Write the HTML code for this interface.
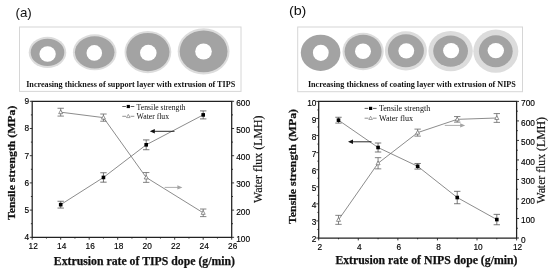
<!DOCTYPE html>
<html><head><meta charset="utf-8"><title>Figure</title>
<style>
html,body{margin:0;padding:0;background:#fff;}
body{width:550px;height:272px;overflow:hidden;}
svg{display:block;}
.sans{font-family:"Liberation Sans",sans-serif;}
.serif{font-family:"Liberation Serif",serif;}
.b{font-weight:bold;}
</style></head><body>
<svg width="550" height="272" viewBox="0 0 550 272">
<defs><filter id="soft" x="0" y="0" width="100%" height="100%" color-interpolation-filters="sRGB"><feGaussianBlur stdDeviation="0.4"/></filter></defs>
<rect width="550" height="272" fill="#fff"/>
<g filter="url(#soft)">
<text class="sans" x="15.5" y="16.8" font-size="13.3" fill="#111" textLength="16.3" lengthAdjust="spacingAndGlyphs">(a)</text>
<text class="sans" x="288.9" y="14.8" font-size="13.5" fill="#111" textLength="17.5" lengthAdjust="spacingAndGlyphs">(b)</text>
<rect x="19.5" y="27" width="221.5" height="64.4" fill="#fff" stroke="#d6d6d6" stroke-width="1"/>
<rect x="297.7" y="27" width="224.8" height="64.7" fill="#fff" stroke="#d6d6d6" stroke-width="1"/>
<ellipse cx="47.5" cy="52.4" rx="18.8" ry="15.6" fill="#dcdcdc"/><ellipse cx="47.5" cy="52.4" rx="16.8" ry="13.6" fill="#a3a3a3"/><ellipse cx="47.6" cy="54" rx="8.2" ry="7.8" fill="#fff"/>
<ellipse cx="94.7" cy="52.3" rx="21.8" ry="18" fill="#dcdcdc"/><ellipse cx="94.7" cy="52.3" rx="19.8" ry="16.1" fill="#a3a3a3"/><ellipse cx="94.3" cy="52.9" rx="7.8" ry="7.8" fill="#fff"/>
<ellipse cx="147.9" cy="52.1" rx="23.4" ry="21.1" fill="#dcdcdc"/><ellipse cx="147.9" cy="52.1" rx="21.6" ry="19.2" fill="#a3a3a3"/><ellipse cx="148.3" cy="52.8" rx="8.3" ry="8" fill="#fff"/>
<ellipse cx="203.6" cy="51.4" rx="25.9" ry="23.2" fill="#dcdcdc"/><ellipse cx="203.6" cy="51.4" rx="23.9" ry="20.9" fill="#a3a3a3"/><ellipse cx="203.5" cy="51.5" rx="8.3" ry="8" fill="#fff"/>
<ellipse cx="320.6" cy="52.8" rx="19.8" ry="18.1" fill="#a3a3a3"/><ellipse cx="320.8" cy="52.8" rx="7.9" ry="8.1" fill="#fff"/>
<ellipse cx="363.1" cy="51.5" rx="20.6" ry="18.8" fill="#dcdcdc"/><ellipse cx="363.1" cy="51.5" rx="18.5" ry="16.8" fill="#a3a3a3"/><ellipse cx="363" cy="51.3" rx="8" ry="7.7" fill="#fff"/>
<ellipse cx="405.9" cy="50.8" rx="21" ry="19.6" fill="#dcdcdc"/><ellipse cx="405.9" cy="50.8" rx="18" ry="16.5" fill="#a3a3a3"/><ellipse cx="406.3" cy="50.8" rx="7.9" ry="7.6" fill="#fff"/>
<ellipse cx="450.6" cy="51.1" rx="22.2" ry="20.2" fill="#dcdcdc"/><ellipse cx="450.6" cy="51.1" rx="17.4" ry="15.6" fill="#a3a3a3"/><ellipse cx="451.1" cy="50.6" rx="8" ry="7.7" fill="#fff"/>
<ellipse cx="495.8" cy="51.2" rx="22.5" ry="21.6" fill="#dcdcdc"/><ellipse cx="495.8" cy="51.2" rx="16.9" ry="16" fill="#a3a3a3"/><ellipse cx="495.8" cy="50.6" rx="8.2" ry="7.7" fill="#fff"/>
<text class="serif b" x="130.7" y="86.8" font-size="7.6" text-anchor="middle" fill="#111" textLength="209" lengthAdjust="spacingAndGlyphs">Increasing thickness of support layer with extrusion of TIPS</text>
<text class="serif b" x="411.9" y="87" font-size="7.6" text-anchor="middle" fill="#111" textLength="208" lengthAdjust="spacingAndGlyphs">Increasing thickness of coating layer with extrusion of NIPS</text>
<g stroke="#222" stroke-width="1.25" fill="none"><path d="M32.2 101.3V237.3H231.7V101.3Z"/><path d="M32.2 237.3v2.4M46.45 237.3v1.3M60.7 237.3v2.4M74.95 237.3v1.3M89.2 237.3v2.4M103.45 237.3v1.3M117.7 237.3v2.4M131.95 237.3v1.3M146.2 237.3v2.4M160.45 237.3v1.3M174.7 237.3v2.4M188.95 237.3v1.3M203.2 237.3v2.4M217.45 237.3v1.3M231.7 237.3v2.4M32.2 237.3h-2.4M32.2 223.7h-1.3M32.2 210.1h-2.4M32.2 196.5h-1.3M32.2 182.9h-2.4M32.2 169.3h-1.3M32.2 155.7h-2.4M32.2 142.1h-1.3M32.2 128.5h-2.4M32.2 114.9h-1.3M32.2 101.3h-2.4M231.7 237.3h2.4M231.7 223.7h1.3M231.7 210.1h2.4M231.7 196.5h1.3M231.7 182.9h2.4M231.7 169.3h1.3M231.7 155.7h2.4M231.7 142.1h1.3M231.7 128.5h2.4M231.7 114.9h1.3M231.7 101.3h2.4" stroke-width="0.9"/></g>
<g class="sans" font-size="8.3" fill="#000" stroke="#000" stroke-width="0.15"><text x="33.2" y="249" text-anchor="middle">12</text><text x="61.7" y="249" text-anchor="middle">14</text><text x="90.2" y="249" text-anchor="middle">16</text><text x="118.7" y="249" text-anchor="middle">18</text><text x="147.2" y="249" text-anchor="middle">20</text><text x="175.7" y="249" text-anchor="middle">22</text><text x="204.2" y="249" text-anchor="middle">24</text><text x="232.7" y="249" text-anchor="middle">26</text><text x="29.1" y="240.2" text-anchor="end">4</text><text x="29.1" y="213" text-anchor="end">5</text><text x="29.1" y="185.8" text-anchor="end">6</text><text x="29.1" y="158.6" text-anchor="end">7</text><text x="29.1" y="131.4" text-anchor="end">8</text><text x="29.1" y="104.2" text-anchor="end">9</text><text x="236.2" y="241.7">100</text><text x="236.2" y="214.5">200</text><text x="236.2" y="187.3">300</text><text x="236.2" y="160.1">400</text><text x="236.2" y="132.9">500</text><text x="236.2" y="105.7">600</text></g>
<polyline points="60.7,204.66 103.45,177.46 146.2,144.82 203.2,114.9" fill="none" stroke="#6e6e6e" stroke-width="0.8"/><polyline points="60.7,112.18 103.45,117.62 146.2,177.46 203.2,212.82" fill="none" stroke="#6e6e6e" stroke-width="0.8"/>
<path d="M60.7 108.28V116.08M57.5 108.28h6.4M57.5 116.08h6.4" stroke="#666" stroke-width="0.8" fill="none"/><path d="M60.7 109.88L62.7 113.68L58.7 113.68Z" fill="#fff" stroke="#666" stroke-width="0.7"/><path d="M103.45 114.02V121.22M100.25 114.02h6.4M100.25 121.22h6.4" stroke="#666" stroke-width="0.8" fill="none"/><path d="M103.45 115.32L105.45 119.12L101.45 119.12Z" fill="#fff" stroke="#666" stroke-width="0.7"/><path d="M146.2 172.56V182.36M143 172.56h6.4M143 182.36h6.4" stroke="#666" stroke-width="0.8" fill="none"/><path d="M146.2 175.16L148.2 178.96L144.2 178.96Z" fill="#fff" stroke="#666" stroke-width="0.7"/><path d="M203.2 209.02V216.62M200 209.02h6.4M200 216.62h6.4" stroke="#666" stroke-width="0.8" fill="none"/><path d="M203.2 210.52L205.2 214.32L201.2 214.32Z" fill="#fff" stroke="#666" stroke-width="0.7"/><path d="M60.7 201.26V208.06M57.5 201.26h6.4M57.5 208.06h6.4" stroke="#555" stroke-width="0.8" fill="none"/><rect x="58.9" y="202.86" width="3.6" height="3.6" fill="#000"/><path d="M103.45 172.76V182.16M100.25 172.76h6.4M100.25 182.16h6.4" stroke="#555" stroke-width="0.8" fill="none"/><rect x="101.65" y="175.66" width="3.6" height="3.6" fill="#000"/><path d="M146.2 139.92V149.72M143 139.92h6.4M143 149.72h6.4" stroke="#555" stroke-width="0.8" fill="none"/><rect x="144.4" y="143.02" width="3.6" height="3.6" fill="#000"/><path d="M203.2 110.9V118.9M200 110.9h6.4M200 118.9h6.4" stroke="#555" stroke-width="0.8" fill="none"/><rect x="201.4" y="113.1" width="3.6" height="3.6" fill="#000"/>
<path d="M122.3 106.5h3.6m4.8 0h3.6" stroke="#333" stroke-width="0.8"/><rect x="126.7" y="104.9" width="3.2" height="3.2" fill="#000"/><path d="M122.3 116.3h3.8m4.4 0h3.8" stroke="#777" stroke-width="0.8"/><path d="M128.3 114.4l1.8 3.2h-3.6z" fill="#fff" stroke="#666" stroke-width="0.6"/><text class="serif" x="136.6" y="109.5" font-size="7.7" fill="#111">Tensile strength</text><text class="serif" x="136.6" y="118.9" font-size="7.7" fill="#111">Water flux</text>
<path d="M152.8 131.3H174.5" stroke="#111" stroke-width="0.9"/><path d="M149.8 131.3l5 -2.2v4.4z" fill="#111"/><path d="M164.7 187.4H179.4" stroke="#a4a4a4" stroke-width="0.9"/><path d="M182.4 187.4l-5 -2.2v4.4z" fill="#a4a4a4"/>
<text class="serif b" x="53.8" y="264.5" font-size="11.8" fill="#111" stroke="#111" stroke-width="0.25" textLength="181.2" lengthAdjust="spacingAndGlyphs">Extrusion rate of TIPS dope (g/min)</text>
<text class="serif b" transform="translate(15.2 220) rotate(-90)" font-size="11.2" fill="#111" stroke="#111" stroke-width="0.25" textLength="114.3" lengthAdjust="spacingAndGlyphs">Tensile strength (MPa)</text>
<text class="serif" transform="translate(261.5 203) rotate(-90)" font-size="11.8" fill="#111" stroke="#111" stroke-width="0.15" textLength="87.5" lengthAdjust="spacingAndGlyphs">Water flux (LMH)</text>
<g stroke="#222" stroke-width="1.25" fill="none"><path d="M318.7 101.4V238H516.6V101.4Z"/><path d="M318.7 238v2.4M338.49 238v1.3M358.28 238v2.4M378.07 238v1.3M397.86 238v2.4M417.65 238v1.3M437.44 238v2.4M457.23 238v1.3M477.02 238v2.4M496.81 238v1.3M516.6 238v2.4M318.7 238h-2.4M318.7 229.46h-1.3M318.7 220.93h-2.4M318.7 212.39h-1.3M318.7 203.85h-2.4M318.7 195.31h-1.3M318.7 186.78h-2.4M318.7 178.24h-1.3M318.7 169.7h-2.4M318.7 161.16h-1.3M318.7 152.62h-2.4M318.7 144.09h-1.3M318.7 135.55h-2.4M318.7 127.01h-1.3M318.7 118.48h-2.4M318.7 109.94h-1.3M318.7 101.4h-2.4M516.6 238h2.4M516.6 228.24h1.3M516.6 218.49h2.4M516.6 208.73h1.3M516.6 198.97h2.4M516.6 189.21h1.3M516.6 179.46h2.4M516.6 169.7h1.3M516.6 159.94h2.4M516.6 150.19h1.3M516.6 140.43h2.4M516.6 130.67h1.3M516.6 120.91h2.4M516.6 111.16h1.3M516.6 101.4h2.4" stroke-width="0.9"/></g>
<g class="sans" font-size="8.3" fill="#000" stroke="#000" stroke-width="0.15"><text x="319.7" y="249.7" text-anchor="middle">2</text><text x="359.28" y="249.7" text-anchor="middle">4</text><text x="398.86" y="249.7" text-anchor="middle">6</text><text x="438.44" y="249.7" text-anchor="middle">8</text><text x="478.02" y="249.7" text-anchor="middle">10</text><text x="517.6" y="249.7" text-anchor="middle">12</text><text x="316.4" y="242.2" text-anchor="end">2</text><text x="316.4" y="225.12" text-anchor="end">3</text><text x="316.4" y="208.05" text-anchor="end">4</text><text x="316.4" y="190.97" text-anchor="end">5</text><text x="316.4" y="173.9" text-anchor="end">6</text><text x="316.4" y="156.82" text-anchor="end">7</text><text x="316.4" y="139.75" text-anchor="end">8</text><text x="316.4" y="122.68" text-anchor="end">9</text><text x="316.4" y="105.6" text-anchor="end">10</text><text x="521.1" y="242.6">0</text><text x="521.1" y="223.09">100</text><text x="521.1" y="203.57">200</text><text x="521.1" y="184.06">300</text><text x="521.1" y="164.54">400</text><text x="521.1" y="145.03">500</text><text x="521.1" y="125.51">600</text><text x="521.1" y="106">700</text></g>
<polyline points="338.49,120.18 378.07,147.5 417.65,166.28 457.23,197.53 496.81,219.56" fill="none" stroke="#6e6e6e" stroke-width="0.8"/><polyline points="338.49,219.85 378.07,163.26 417.65,132.62 457.23,119.35 496.81,117.99" fill="none" stroke="#6e6e6e" stroke-width="0.8"/>
<path d="M338.49 215.35V224.35M335.29 215.35h6.4M335.29 224.35h6.4" stroke="#666" stroke-width="0.8" fill="none"/><path d="M338.49 217.55L340.49 221.35L336.49 221.35Z" fill="#fff" stroke="#666" stroke-width="0.7"/><path d="M378.07 157.66V168.86M374.87 157.66h6.4M374.87 168.86h6.4" stroke="#666" stroke-width="0.8" fill="none"/><path d="M378.07 160.96L380.07 164.76L376.07 164.76Z" fill="#fff" stroke="#666" stroke-width="0.7"/><path d="M417.65 129.12V136.12M414.45 129.12h6.4M414.45 136.12h6.4" stroke="#666" stroke-width="0.8" fill="none"/><path d="M417.65 130.32L419.65 134.12L415.65 134.12Z" fill="#fff" stroke="#666" stroke-width="0.7"/><path d="M457.23 116.55V122.15M454.03 116.55h6.4M454.03 122.15h6.4" stroke="#666" stroke-width="0.8" fill="none"/><path d="M457.23 117.05L459.23 120.85L455.23 120.85Z" fill="#fff" stroke="#666" stroke-width="0.7"/><path d="M496.81 113.59V122.39M493.61 113.59h6.4M493.61 122.39h6.4" stroke="#666" stroke-width="0.8" fill="none"/><path d="M496.81 115.69L498.81 119.49L494.81 119.49Z" fill="#fff" stroke="#666" stroke-width="0.7"/><path d="M338.49 117.28V123.08M335.29 117.28h6.4M335.29 123.08h6.4" stroke="#555" stroke-width="0.8" fill="none"/><rect x="336.69" y="118.38" width="3.6" height="3.6" fill="#000"/><path d="M378.07 143V152M374.87 143h6.4M374.87 152h6.4" stroke="#555" stroke-width="0.8" fill="none"/><rect x="376.27" y="145.7" width="3.6" height="3.6" fill="#000"/><path d="M417.65 163.48V169.09M414.45 163.48h6.4M414.45 169.09h6.4" stroke="#555" stroke-width="0.8" fill="none"/><rect x="415.85" y="164.48" width="3.6" height="3.6" fill="#000"/><path d="M457.23 191.33V203.73M454.03 191.33h6.4M454.03 203.73h6.4" stroke="#555" stroke-width="0.8" fill="none"/><rect x="455.43" y="195.73" width="3.6" height="3.6" fill="#000"/><path d="M496.81 214.36V224.76M493.61 214.36h6.4M493.61 224.76h6.4" stroke="#555" stroke-width="0.8" fill="none"/><rect x="495.01" y="217.76" width="3.6" height="3.6" fill="#000"/>
<path d="M364.6 108.4h3.6m4.8 0h3.6" stroke="#333" stroke-width="0.8"/><rect x="369" y="106.8" width="3.2" height="3.2" fill="#000"/><path d="M364.6 118.2h3.8m4.4 0h3.8" stroke="#777" stroke-width="0.8"/><path d="M370.6 116.3l1.8 3.2h-3.6z" fill="#fff" stroke="#666" stroke-width="0.6"/><text class="serif" x="378.9" y="111.4" font-size="8.1" fill="#111">Tensile strength</text><text class="serif" x="378.9" y="120.8" font-size="8.1" fill="#111">Water flux</text>
<path d="M351 141.8H371.5" stroke="#111" stroke-width="0.9"/><path d="M348 141.8l5 -2.2v4.4z" fill="#111"/><path d="M444.8 125.4H462.2" stroke="#a4a4a4" stroke-width="0.9"/><path d="M465.2 125.4l-5 -2.2v4.4z" fill="#a4a4a4"/>
<text class="serif b" x="335.4" y="263.5" font-size="11.8" fill="#111" stroke="#111" stroke-width="0.25" textLength="182.1" lengthAdjust="spacingAndGlyphs">Extrusion rate of NIPS dope (g/min)</text>
<text class="serif b" transform="translate(296.4 224) rotate(-90)" font-size="11.2" fill="#111" stroke="#111" stroke-width="0.25" textLength="115" lengthAdjust="spacingAndGlyphs">Tensile strength (MPa)</text>
<text class="serif" transform="translate(545.2 203.5) rotate(-90)" font-size="11.8" fill="#111" stroke="#111" stroke-width="0.15" textLength="86.5" lengthAdjust="spacingAndGlyphs">Water flux (LMH)</text>
</g>
</svg>
</body></html>
